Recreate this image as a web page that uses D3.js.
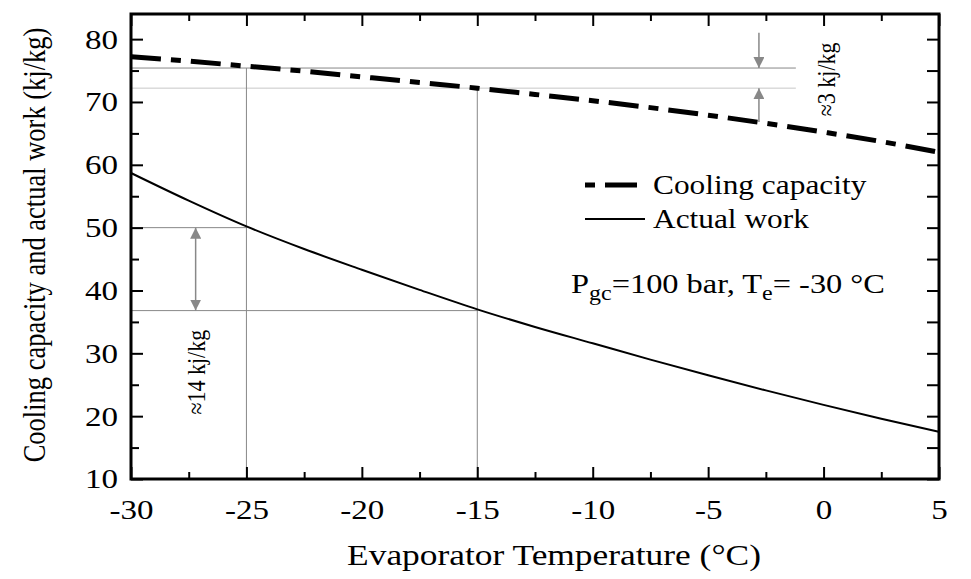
<!DOCTYPE html>
<html>
<head>
<meta charset="utf-8">
<script src="https://cdn.jsdelivr.net/npm/d3@7"></script>
<style>
    body { margin: 0; background: #fff; }
    text { font-family: "Liberation Serif", "DejaVu Serif", serif; fill: #000; }
    .axis path, .axis line { stroke: #000; }
</style>
</head>
<body>
<div id="chart"></div>
<script>
// evaporator temperature (°C)
let temps = [-30, -27.5, -25, -22.5, -20, -17.5, -15, -12.5, -10, -7.5, -5, -2.5, 0, 2.5, 5];
// cooling capacity (kj/kg)
let cooling = [77.2, 76.5, 75.7, 74.9, 74.0, 73.1, 72.2, 71.2, 70.2, 69.1, 67.9, 66.6, 65.2, 63.7, 62.0];
// actual work (kj/kg)
let work = [58.7, 54.3, 50.2, 46.6, 43.3, 40.1, 37.0, 34.2, 31.6, 29.0, 26.5, 24.1, 21.8, 19.6, 17.5];

let xTicks = [-30, -25, -20, -15, -10, -5, 0, 5];
let yTicks = [10, 20, 30, 40, 50, 60, 70, 80];

// guide lines
let capHigh = 75.4, capLow = 72.2, workHigh = 50, workLow = 36.8;

let margin = { top: 14, right: 32, bottom: 100, left: 131 };
let width = 971 - margin.left - margin.right;
let height = 579 - margin.top - margin.bottom;

// the original picture is a bit wider than tall, text included
let STRETCH = 1.18;

function stretch(sel, s) {
    sel.each(function() {
        let t = d3.select(this);
        let tx = +t.attr("x") || 0, ty = +t.attr("y") || 0;
        t.attr("x", 0).attr("y", 0)
            .attr("transform", "translate(" + tx + "," + ty + ") scale(" + s + ",1)");
    });
}

let svg = d3.select("#chart").append("svg")
    .attr("width", 971)
    .attr("height", 579);

let g = svg.append("g")
    .attr("transform", "translate(" + margin.left + "," + margin.top + ")");

let x = d3.scaleLinear().domain([-30, 5]).range([0, width]);
let y = d3.scaleLinear().domain([10, 84]).range([height, 0]);

svg.append("defs").append("marker")
    .attr("id", "arrow")
    .attr("viewBox", "0 0 10 10")
    .attr("refX", 10).attr("refY", 5)
    .attr("markerWidth", 11).attr("markerHeight", 11)
    .attr("markerUnits", "userSpaceOnUse")
    .attr("orient", "auto-start-reverse")
    .append("path")
    .attr("d", "M0,0 L10,5 L0,10 Z")
    .attr("fill", "#888");

// grey guide lines
let guides = g.append("g").attr("stroke-width", 1).attr("fill", "none");
guides.append("line")
    .attr("x1", x(-30)).attr("x2", x(-1.2))
    .attr("y1", y(capHigh)).attr("y2", y(capHigh))
    .attr("stroke", "#888");
guides.append("line")
    .attr("x1", x(-30)).attr("x2", x(-1.2))
    .attr("y1", y(capLow)).attr("y2", y(capLow))
    .attr("stroke", "#c8c8c8");
guides.append("line")
    .attr("x1", x(-25)).attr("x2", x(-25))
    .attr("y1", y(capHigh)).attr("y2", y(10))
    .attr("stroke", "#888");
guides.append("line")
    .attr("x1", x(-15)).attr("x2", x(-15))
    .attr("y1", y(capLow)).attr("y2", y(10))
    .attr("stroke", "#888");
guides.append("line")
    .attr("x1", x(-30)).attr("x2", x(-25))
    .attr("y1", y(workHigh)).attr("y2", y(workHigh))
    .attr("stroke", "#888");
guides.append("line")
    .attr("x1", x(-30)).attr("x2", x(-15))
    .attr("y1", y(workLow)).attr("y2", y(workLow))
    .attr("stroke", "#888");

// arrows
let arrows = g.append("g").attr("stroke", "#888").attr("stroke-width", 1.5);
arrows.append("line")
    .attr("x1", x(-2.8)).attr("x2", x(-2.8))
    .attr("y1", y(81)).attr("y2", y(capHigh))
    .attr("marker-end", "url(#arrow)");
arrows.append("line")
    .attr("x1", x(-2.8)).attr("x2", x(-2.8))
    .attr("y1", y(66.8)).attr("y2", y(capLow))
    .attr("marker-end", "url(#arrow)");
arrows.append("line")
    .attr("x1", x(-27.2)).attr("x2", x(-27.2))
    .attr("y1", y(workHigh)).attr("y2", y(workLow))
    .attr("marker-start", "url(#arrow)")
    .attr("marker-end", "url(#arrow)");

g.append("text")
    .attr("transform", "translate(" + (x(-2.8) + 76) + "," + y(73.6) + ") scale(" + STRETCH + ",1) rotate(-90)")
    .attr("text-anchor", "middle")
    .attr("font-size", 22)
    .text("≈3 kj/kg");
g.append("text")
    .attr("transform", "translate(" + (x(-27.2) + 9) + "," + y(27.0) + ") scale(" + STRETCH + ",1) rotate(-90)")
    .attr("text-anchor", "middle")
    .attr("font-size", 22)
    .text("≈14 kj/kg");

// curves
let line = d3.line()
    .x(function(d) { return x(d[0]); })
    .y(function(d) { return y(d[1]); })
    .curve(d3.curveMonotoneX);

g.append("path")
    .datum(d3.zip(temps, cooling))
    .attr("d", line)
    .attr("fill", "none")
    .attr("stroke", "#000")
    .attr("stroke-width", 5)
    .attr("stroke-dasharray", "30,10,10,10");

g.append("path")
    .datum(d3.zip(temps, work))
    .attr("d", line)
    .attr("fill", "none")
    .attr("stroke", "#000")
    .attr("stroke-width", 2);

// axes with inward ticks
let minorX = d3.range(-30, 5.01, 2.5).filter(function(d) { return xTicks.indexOf(d) < 0; });
let minorY = d3.range(10, 84, 5);

function styleAxis(sel) {
    sel.select(".domain").remove();
    sel.selectAll("line").attr("stroke-width", 2);
}

let xAxis = g.append("g").attr("class", "axis")
    .attr("transform", "translate(0," + height + ")")
    .call(d3.axisBottom(x).tickValues(xTicks).tickSize(-12).tickPadding(20)
        .tickFormat(function(d) { return String(d); }));
xAxis.call(styleAxis);
xAxis.selectAll("text").attr("font-size", 28).attr("font-family", "Liberation Serif").attr("dy", "0.71em")
    .call(stretch, STRETCH);

g.append("g").attr("class", "axis")
    .attr("transform", "translate(0," + height + ")")
    .call(d3.axisBottom(x).tickValues(minorX).tickSize(-7).tickFormat(""))
    .call(styleAxis);

g.append("g").attr("class", "axis")
    .call(d3.axisTop(x).tickValues(xTicks).tickSize(-12).tickFormat(""))
    .call(styleAxis);
g.append("g").attr("class", "axis")
    .call(d3.axisTop(x).tickValues(minorX).tickSize(-7).tickFormat(""))
    .call(styleAxis);

let yAxis = g.append("g").attr("class", "axis")
    .call(d3.axisLeft(y).tickValues(yTicks).tickSize(-12).tickPadding(13)
        .tickFormat(function(d) { return String(d); }));
yAxis.call(styleAxis);
yAxis.selectAll("text").attr("font-size", 28).attr("font-family", "Liberation Serif")
    .call(stretch, STRETCH);

g.append("g").attr("class", "axis")
    .call(d3.axisLeft(y).tickValues(minorY.filter(function(d) { return yTicks.indexOf(d) < 0; }))
        .tickSize(-8).tickFormat(""))
    .call(styleAxis);

g.append("g").attr("class", "axis")
    .attr("transform", "translate(" + width + ",0)")
    .call(d3.axisRight(y).tickValues(minorY).tickSize(-12).tickFormat(""))
    .call(styleAxis);

// frame
g.append("rect")
    .attr("width", width)
    .attr("height", height)
    .attr("fill", "none")
    .attr("stroke", "#000")
    .attr("stroke-width", 3);

// axis titles
svg.append("text")
    .attr("x", 554)
    .attr("y", 565)
    .attr("text-anchor", "middle")
    .attr("font-size", 30)
    .text("Evaporator Temperature (°C)")
    .call(stretch, STRETCH);

svg.append("text")
    .attr("transform", "translate(45,245) scale(" + STRETCH + ",1) rotate(-90)")
    .attr("text-anchor", "middle")
    .attr("font-size", 26.5)
    .text("Cooling capacity and actual work (kj/kg)");

// legend
let legend = svg.append("g").attr("transform", "translate(585,0)");
legend.append("line")
    .attr("x1", 0).attr("x2", 52).attr("y1", 185).attr("y2", 185)
    .attr("stroke", "#000").attr("stroke-width", 5)
    .attr("stroke-dasharray", "10,10,32,0");
legend.append("text")
    .attr("x", 68).attr("y", 194)
    .attr("font-size", 28)
    .text("Cooling capacity")
    .call(stretch, 1.12);
legend.append("line")
    .attr("x1", 0).attr("x2", 60).attr("y1", 219).attr("y2", 219)
    .attr("stroke", "#000").attr("stroke-width", 2);
legend.append("text")
    .attr("x", 68).attr("y", 228)
    .attr("font-size", 28)
    .text("Actual work")
    .call(stretch, 1.12);

let note = svg.append("text")
    .attr("x", 571).attr("y", 293)
    .attr("font-size", 27);
note.append("tspan").text("P");
note.append("tspan").attr("font-size", 20).attr("dy", 7).text("gc");
note.append("tspan").attr("dy", -7).text("=100 bar, T");
note.append("tspan").attr("font-size", 20).attr("dy", 7).text("e");
note.append("tspan").attr("dy", -7).text("= -30 °C");
note.call(stretch, 1.2);
</script>
</body>
</html>
